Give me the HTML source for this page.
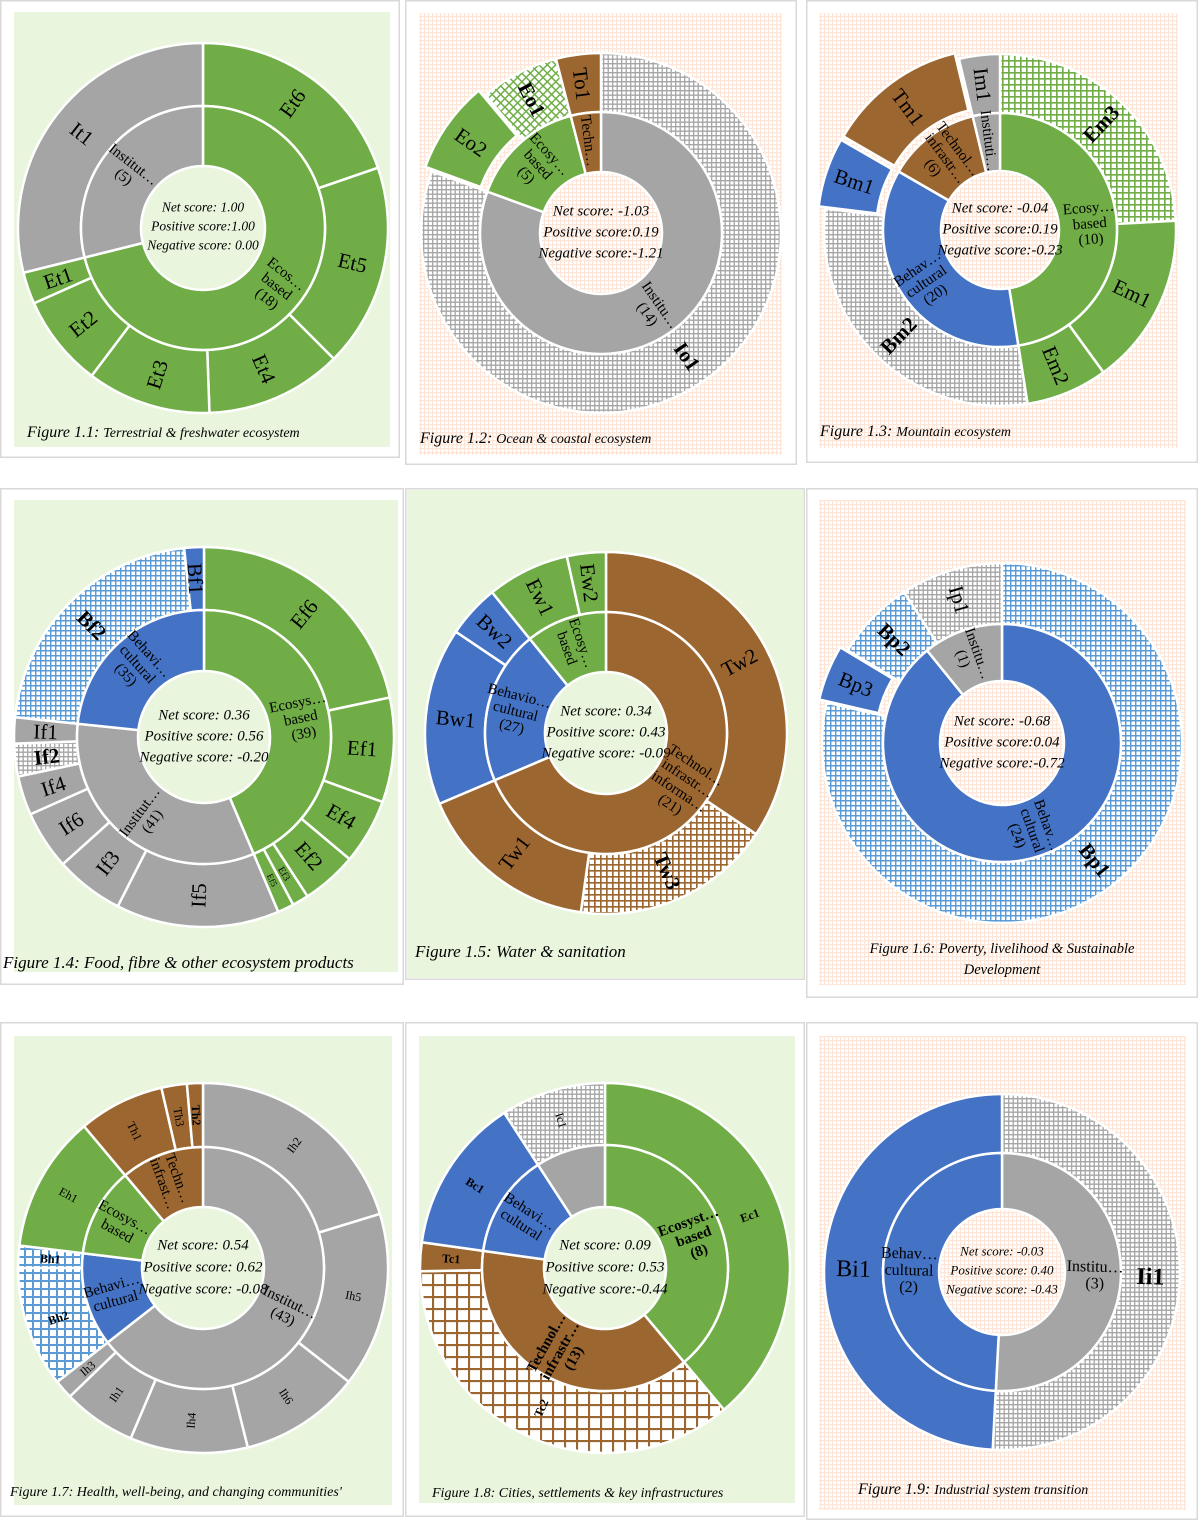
<!DOCTYPE html>
<html><head><meta charset="utf-8"><style>
html,body{margin:0;padding:0;background:#fff;}
svg{display:block;font-family:"Liberation Serif",serif;}
</style></head><body>
<svg id="root" width="1200" height="1522" viewBox="0 0 1200 1522" xmlns="http://www.w3.org/2000/svg">
<defs>
<pattern id="peach" width="4" height="4" patternUnits="userSpaceOnUse"><rect width="4" height="4" fill="#fff"/><path d="M0 0.6H4M0.6 0V4" stroke="#fde6d7" stroke-width="1.2"/></pattern>
<pattern id="hgray" width="4.5" height="4.5" patternUnits="userSpaceOnUse"><rect width="4.5" height="4.5" fill="#fff"/><path d="M0 0.7H4.5M0.7 0V4.5" stroke="#a5a5a5" stroke-width="1.3"/></pattern>
<pattern id="hgreen" width="6" height="6" patternUnits="userSpaceOnUse"><rect width="6" height="6" fill="#fff"/><path d="M0 0.8H6M0.8 0V6" stroke="#70ad47" stroke-width="1.7"/></pattern>
<pattern id="hgreend" width="6" height="6" patternUnits="userSpaceOnUse" patternTransform="rotate(45)"><rect width="6" height="6" fill="#fff"/><path d="M0 0.8H6M0.8 0V6" stroke="#70ad47" stroke-width="1.5"/></pattern>
<pattern id="hblue" width="5" height="5" patternUnits="userSpaceOnUse"><rect width="5" height="5" fill="#fff"/><path d="M0 0.7H5M0.7 0V5" stroke="#5b9bd5" stroke-width="1.5"/></pattern>
<pattern id="hblue2" width="8" height="8" patternUnits="userSpaceOnUse"><rect width="8" height="8" fill="#fff"/><path d="M0 1H8M1 0V8" stroke="#5b9bd5" stroke-width="2"/></pattern>
<pattern id="hbrown" width="6" height="6" patternUnits="userSpaceOnUse"><rect width="6" height="6" fill="#fff"/><path d="M0 0.8H6M0.8 0V6" stroke="#9c6630" stroke-width="1.7"/></pattern>
<pattern id="hbrown2" width="12" height="12" patternUnits="userSpaceOnUse"><rect width="12" height="12" fill="#fff"/><path d="M0 1H12M1 0V12" stroke="#9c6630" stroke-width="2.2"/></pattern>
</defs>
<g id="layer"></g>
</svg>
<script>
// ---- data (angular shares) ----
const p1InnerLabels=["Ecos…\nbased\n(18)","Institut…\n(5)"];
const p1InnerValues=[256,104];
const p1OuterLabels=["Et6","Et5","Et4","Et3","Et2","Et1","It1"];
const p1OuterValues=[71,64,43,39,29,10,104];
const p1Scores=["Net score: 1.00","Positive score:1.00","Negative score: 0.00"];

const p2InnerLabels=["Institu…\n(14)","Ecosy…\nbased\n(5)","Techn…"];
const p2InnerValues=[290,55.5,14.5];
const p2OuterLabels=["Io1","Eo2","Eo1","To1"];
const p2OuterValues=[290,30,25.5,14.5];
const p2Scores=["Net score: -1.03","Positive score:0.19","Negative score:-1.21"];

const p3InnerLabels=["Ecosy…\nbased\n(10)","Behav…\ncultural\n(20)","Technol…\ninfrastr…\n(6)","Instituti…"];
const p3InnerValues=[171,129,46.5,13.5];
const p3OuterLabels=["Em3","Em1","Em2","Bm2","Bm1","Tm1","Im1"];
const p3OuterValues=[87,57,27,106,23,46.5,13.5];
const p3Scores=["Net score: -0.04","Positive score:0.19","Negative score:-0.23"];

const p4InnerLabels=["Ecosys…\nbased\n(39)","Institut…\n(41)","Behavi…\ncultural\n(35)"];
const p4InnerValues=[157,119,84];
const p4OuterLabels=["Ef6","Ef1","Ef4","Ef2","Ef3","Ef5","If5","If3","If6","If4","If2","If1","Bf2","Bf1"];
const p4OuterValues=[78,32,20,17,5,5,50,21,18,12,10,8,78,6];
const p4Scores=["Net score: 0.36","Positive score: 0.56","Negative score: -0.20"];

const p5InnerLabels=["Technol…\ninfrastr…\ninforma…\n(21)","Behavio…\ncultural\n(27)","Ecosy…\nbased"];
const p5InnerValues=[247,74,39];
const p5OuterLabels=["Tw2","Tw3","Tw1","Bw1","Bw2","Ew1","Ew2"];
const p5OuterValues=[124,64,59,57,17,26.5,12.5];
const p5Scores=["Net score: 0.34","Positive score: 0.43","Negative score: -0.09"];

const p6InnerLabels=["Behav…\ncultural\n(24)","Institu…\n(1)"];
const p6InnerValues=[321,39];
const p6OuterLabels=["Bp1","Bp3","Bp2","Ip1"];
const p6OuterValues=[283,18,26,33];
const p6Scores=["Net score: -0.68","Positive score:0.04","Negative score:-0.72"];

const p7InnerLabels=["Institut…\n(43)","Behavi…\ncultural","Ecosys…\nbased","Techn…\ninfrast…"];
const p7InnerValues=[232,45,43,40];
const p7OuterLabels=["Ih2","Ih5","Ih6","Ih4","Ih1","Ih3","Bh2","Bh1","Eh1","Th1","Th3","Th2"];
const p7OuterValues=[73,55,38,37,23,6,38,7,43,27,8,5];
const p7Scores=["Net score: 0.54","Positive score: 0.62","Negative score: -0.08"];

const p8InnerLabels=["Ecosyst…\nbased\n(8)","Technol…\ninfrastr…\n(13)","Behavi…\ncultural",""];
const p8InnerValues=[140,138,49,33];
const p8OuterLabels=["Ec1","Tc2","Tc1","Bc1","Ic1"];
const p8OuterValues=[140,129,9,49,33];
const p8Scores=["Net score: 0.09","Positive score: 0.53","Negative score:-0.44"];

const p9InnerLabels=["Institu…\n(3)","Behav…\ncultural\n(2)"];
const p9InnerValues=[183,177];
const p9OuterLabels=["Ii1","Bi1"];
const p9OuterValues=[183,177];
const p9Scores=["Net score: -0.03","Positive score: 0.40","Negative score: -0.43"];

// ---- styles / layout ----
const G="#70ad47",A="#a5a5a5",B="#4472c4",R="#9c6630";
const P=(id)=>"url(#"+id+")";
const panels=[
 {cell:[0,0,400,458],bg:[14,12,376,435,"#e9f5dd"],cx:203,cy:228,r0:62,r1:122,r2:185,
  il:p1InnerLabels,iv:p1InnerValues,ic:[G,A],ol:p1OuterLabels,ov:p1OuterValues,
  oc:[G,G,G,G,G,G,A],ob:[],ofs:21,ifs:15,sc:p1Scores,sfs:13.5,sdy:19,
  cap:[["Figure 1.1: ",16],["Terrestrial & freshwater ecosystem",14]],capx:27,capy:437},
 {cell:[405,0,392,465],bg:[419,13,363,442,P("peach")],cx:601,cy:233,r0:61,r1:121,r2:180,
  il:p2InnerLabels,iv:p2InnerValues,ic:[A,G,R],ol:p2OuterLabels,ov:p2OuterValues,
  oc:[P("hgray"),G,P("hgreend"),R],ob:[1,0,1,0],ex:[0,8,0,0],ofs:21,ifs:15,sc:p2Scores,sfs:15,sdy:21,
  cap:[["Figure 1.2: ",16],["Ocean & coastal ecosystem",14]],capx:420,capy:443},
 {cell:[806,0,392,463],bg:[819,13,359,435,P("peach")],cx:1000,cy:230,r0:59,r1:117,r2:176,
  il:p3InnerLabels,iv:p3InnerValues,ic:[G,B,R,A],ol:p3OuterLabels,ov:p3OuterValues,
  oc:[P("hgreen"),G,G,P("hgray"),B,R,A],ob:[1,0,0,1,0,0,0],ex:[0,0,0,0,7,7,0],ofs:21,ifs:15,sc:p3Scores,sfs:15,sdy:21,
  cap:[["Figure 1.3: ",16],["Mountain ecosystem",14]],capx:820,capy:436},
 {cell:[0,488,404,497],bg:[14,500,384,472,"#e9f5dd"],cx:204,cy:737,r0:66,r1:127,r2:190,
  il:p4InnerLabels,iv:p4InnerValues,ic:[G,A,B],ol:p4OuterLabels,ov:p4OuterValues,
  oc:[G,G,G,G,G,G,A,A,A,A,P("hgray"),A,P("hblue"),B],ob:[0,0,0,0,0,0,0,0,0,0,1,0,1,0],ofs:21,ifs:15,
  small:{4:10,5:9},sc:p4Scores,sfs:15,sdy:21,
  cap:[["Figure 1.4: Food, fibre & other ecosystem products",17]],capx:3,capy:968},
 {cell:[405,488,400,492],bg:[407,490,396,488,"#e9f5dd"],cx:606,cy:733,r0:61,r1:121,r2:181,
  il:p5InnerLabels,iv:p5InnerValues,ic:[R,B,G],ol:p5OuterLabels,ov:p5OuterValues,
  oc:[R,P("hbrown"),R,B,B,G,G],ob:[0,1,0,0,0,0,0],ofs:21,ifs:15,sc:p5Scores,sfs:15,sdy:21,
  cap:[["Figure 1.5: Water & sanitation",17]],capx:415,capy:957},
 {cell:[806,488,392,510],bg:[819,500,367,485,P("peach")],cx:1002,cy:743,r0:62,r1:119,r2:180,
  il:p6InnerLabels,iv:p6InnerValues,ic:[B,A],ol:p6OuterLabels,ov:p6OuterValues,
  oc:[P("hblue"),B,P("hblue"),P("hgray")],ob:[1,0,1,0],ex:[0,8,0,0],ofs:21,ifs:15,sc:p6Scores,sfs:15,sdy:21,
  cap:[["Figure 1.6: Poverty, livelihood & Sustainable",14.5]],cap2:"Development",capx:1002,capy:953,center:true},
 {cell:[0,1022,404,495],bg:[14,1036,378,469,"#e9f5dd"],cx:203,cy:1268,r0:61,r1:121,r2:185,
  il:p7InnerLabels,iv:p7InnerValues,ic:[A,B,G,R],ol:p7OuterLabels,ov:p7OuterValues,
  oc:[A,A,A,A,A,A,P("hblue2"),P("hblue2"),G,R,R,R],ob:[0,0,0,0,0,0,1,1,0,0,0,1],ofs:12,ifs:15,sc:p7Scores,sfs:15,sdy:22,
  cap:[["Figure 1.7: Health, well-being, and changing communities'",14]],capx:10,capy:1496},
 {cell:[405,1022,400,495],bg:[419,1036,376,467,"#e9f5dd"],cx:605,cy:1268,r0:61,r1:123,r2:185,
  il:p8InnerLabels,iv:p8InnerValues,ic:[G,R,B,A],ol:p8OuterLabels,ov:p8OuterValues,
  oc:[G,P("hbrown2"),R,B,P("hgray")],ob:[1,1,1,1,0],ofs:12,ifs:15,ibold:[1,1,0,0],sc:p8Scores,sfs:15,sdy:22,
  cap:[["Figure 1.8: Cities, settlements & key infrastructures",14]],capx:432,capy:1497},
 {cell:[806,1022,392,498],bg:[819,1036,367,474,P("peach")],cx:1002,cy:1272,r0:63,r1:119,r2:178,
  il:p9InnerLabels,iv:p9InnerValues,ic:[A,B],ol:p9OuterLabels,ov:p9OuterValues,
  oc:[P("hgray"),B],ob:[1,0],ofs:24,ifs:16,sc:p9Scores,sfs:13,sdy:19,
  cap:[["Figure 1.9: ",16],["Industrial system transition",14]],capx:858,capy:1494}
];
const NS="http://www.w3.org/2000/svg";
const layer=document.getElementById("layer");
function mk(tag,attrs,parent){const e=document.createElementNS(NS,tag);for(const k in attrs)e.setAttribute(k,attrs[k]);(parent||layer).appendChild(e);return e;}
function angleScale(values){const t=values.reduce((a,b)=>a+b,0);let c=0;return values.map(v=>{const a0=c/t*360;c+=v;return [a0,c/t*360];});}
function pt(cx,cy,r,a){const q=a*Math.PI/180;return [cx+r*Math.sin(q),cy-r*Math.cos(q)];}
function arc(cx,cy,r0,r1,a0,a1){
  if(a1-a0>=359.99)a1=a0+359.99;
  const L=(a1-a0)>180?1:0;const p1=pt(cx,cy,r1,a0),p2=pt(cx,cy,r1,a1),p3=pt(cx,cy,r0,a1),p4=pt(cx,cy,r0,a0);
  return `M${p1[0]},${p1[1]}A${r1},${r1} 0 ${L} 1 ${p2[0]},${p2[1]}L${p3[0]},${p3[1]}A${r0},${r0} 0 ${L} 0 ${p4[0]},${p4[1]}Z`;}
function label(g,txt,cx,cy,r,m,fs,bold){
  if(!txt)return;
  const p=pt(cx,cy,r,m);const rot=m<=180?m-90:m+90;
  const lines=txt.split("\n");const lh=fs*1.05;
  const t=mk("text",{x:p[0],y:p[1],"text-anchor":"middle","font-size":fs,"font-weight":bold?"bold":"normal",fill:"#000",transform:`rotate(${rot} ${p[0]} ${p[1]})`},g);
  
  
  lines.forEach((ln,i)=>{const s=mk("tspan",{x:p[0],y:p[1]+(i-(lines.length-1)/2)*lh+fs*0.35},t);s.textContent=ln;});
}
panels.forEach((pn,pi)=>{
  const g=mk("g",{});
  
  
  const c=pn.cell;
  const cr=mk("rect",{x:c[0]+0.75,y:c[1]+0.75,width:c[2]-1.5,height:c[3]-1.5,fill:"#fff",stroke:"#d9d9d9","stroke-width":1.5},g);
  
  
  const b=pn.bg;
  const br=mk("rect",{x:b[0],y:b[1],width:b[2],height:b[3],fill:b[4]},g);
  
  
  const ia=angleScale(pn.iv), oa=angleScale(pn.ov);
  oa.forEach((a,i)=>{
    const ex=(pn.ex&&pn.ex[i])||0;const m=(a[0]+a[1])/2;const d=pt(0,0,ex,m);
    const sg=mk("g",{transform:`translate(${d[0]},${d[1]})`},g);
    const path=mk("path",{d:arc(pn.cx,pn.cy,pn.r1,pn.r2,a[0],a[1]),fill:pn.oc[i],stroke:"#fff","stroke-width":2.5},sg);
    
    
    const fs=(pn.small&&pn.small[i])||pn.ofs;
    label(sg,pn.ol[i],pn.cx,pn.cy,(pn.r1+pn.r2)/2,m,fs,pn.ob&&pn.ob[i]);
  });
  ia.forEach((a,i)=>{
    const path=mk("path",{d:arc(pn.cx,pn.cy,pn.r0,pn.r1,a[0],a[1]),fill:pn.ic[i],stroke:"#fff","stroke-width":2.5},g);
    
    
    label(g,pn.il[i],pn.cx,pn.cy,(pn.r0+pn.r1)/2+2,(a[0]+a[1])/2,pn.ifs,pn.ibold&&pn.ibold[i]);
  });
  pn.sc.forEach((s,i)=>{
    const t=mk("text",{x:pn.cx,y:pn.cy+(i-1)*pn.sdy+pn.sfs*0.35-2,"text-anchor":"middle","font-size":pn.sfs,"font-style":"italic",fill:"#000"},g);
    
    
    t.textContent=s;
  });
  const cap=mk("text",{x:pn.capx,y:pn.capy,"font-style":"italic",fill:"#000","text-anchor":pn.center?"middle":"start"},g);
  
  
  pn.cap.forEach(([s,f])=>{const sp=mk("tspan",{"font-size":f},cap);sp.textContent=s;});
  if(pn.cap2){const c2=mk("text",{x:pn.capx,y:pn.capy+21,"font-style":"italic","font-size":14.5,"text-anchor":"middle"},g);
    
    
    c2.textContent=pn.cap2;}
});
</script>
</body></html>
